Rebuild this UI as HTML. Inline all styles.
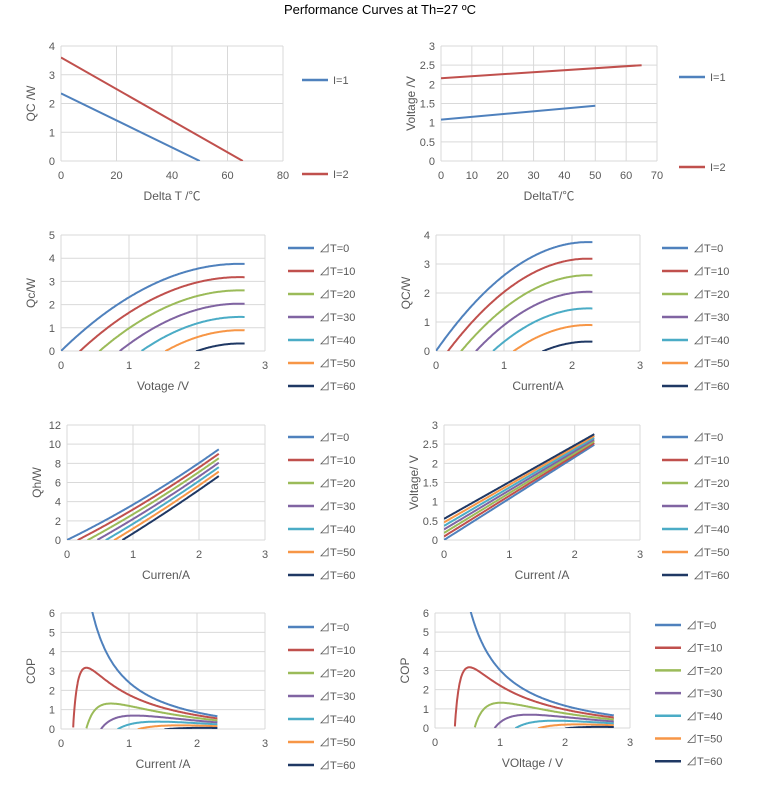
<!DOCTYPE html>
<html><head><meta charset="utf-8"><style>
body{margin:0;background:#fff;width:761px;height:795px;overflow:hidden}
svg text{font-family:"Liberation Sans","Noto Sans CJK SC",sans-serif;fill:#595959}
</style></head><body>
<svg id="s" width="761" height="795" xmlns="http://www.w3.org/2000/svg">
<text x="380" y="14" text-anchor="middle" font-size="13" style="fill:#000">Performance Curves at Th=27 ºC</text>
</svg>
<script>
const S=document.getElementById('s');const NS='http://www.w3.org/2000/svg';
function el(t,a,txt){const e=document.createElementNS(NS,t);for(const k in a)e.setAttribute(k,a[k]);if(txt!==undefined)e.textContent=txt;S.appendChild(e);return e;}
const C=['#4f81bd','#c0504d','#9bbb59','#8064a2','#4bacc6','#f79646','#1f3864'];
const DT=[0,10,20,30,40,50,60];
let cid=0;
function chart(o){
 const {x0,x1,y0,y1,xmin,xmax,xstep,ymin,ymax,ystep,xl,yl,series,lx,ly,labels}=o;
 const X=v=>x0+(v-xmin)/(xmax-xmin)*(x1-x0), Y=v=>y1-(v-ymin)/(ymax-ymin)*(y1-y0);
 for(let v=ymin;v<=ymax+1e-9;v+=ystep){el('line',{x1:x0,x2:x1,y1:Y(v),y2:Y(v),stroke:'#d9d9d9','stroke-width':1});
  el('text',{x:x0-6,y:Y(v)+4,'text-anchor':'end','font-size':11},String(+v.toFixed(1)));}
 for(let v=xmin;v<=xmax+1e-9;v+=xstep){el('line',{x1:X(v),x2:X(v),y1:y0,y2:y1,stroke:'#d9d9d9','stroke-width':1});
  el('text',{x:X(v),y:y1+18,'text-anchor':'middle','font-size':11},String(v));}
 el('text',{x:(x0+x1)/2,y:y1+39,'text-anchor':'middle','font-size':12},xl);
 const yc=(y0+y1)/2;el('text',{x:x0-26,y:yc,'text-anchor':'middle','font-size':12,transform:`rotate(-90 ${x0-26} ${yc})`},yl);
 const id='c'+(cid++);const cp=el('clipPath',{id});const r=document.createElementNS(NS,'rect');
 r.setAttribute('x',x0);r.setAttribute('y',y0-1);r.setAttribute('width',x1-x0);r.setAttribute('height',y1-y0+1);cp.appendChild(r);
 series.forEach((pts,i)=>{el('polyline',{points:pts.map(p=>X(p[0]).toFixed(1)+','+Y(p[1]).toFixed(1)).join(' '),fill:'none',stroke:C[o.cols?o.cols[i]:i],'stroke-width':2,'clip-path':`url(#${id})`});});
 labels.forEach((t,i)=>{const yy=ly[i];el('line',{x1:lx,x2:lx+26,y1:yy,y2:yy,stroke:C[o.cols?o.cols[i]:i],'stroke-width':2.5});
  el('text',{x:lx+31,y:yy+4,'font-size':11},t);});
}
const Qc=(I,d)=>3.357*I-0.75*I*I-0.0572*d;
const V=(I,d)=>(1.08-0.002*d)*I+0.0092*d;
const XV=(I,d)=>2.7-(2.3-I)*(1.174-0.0034*d);
function gen(f,n=200){const a=[];for(let k=0;k<=n;k++){const I=0.0005+2.3*k/n;a.push(f(I));}return a;}
function pos(a){return a.filter(p=>p[1]>=-0.02);}
const dtl=DT.map(d=>'⊿T='+d);
const L7=(s,st=23)=>[0,1,2,3,4,5,6].map(i=>s+i*st);
chart({x0:61,x1:283,y0:46,y1:161,xmin:0,xmax:80,xstep:20,ymin:0,ymax:4,ystep:1,xl:'Delta T /℃',yl:'QC /W',
 series:[[[0,2.35],[50,0]],[[0,3.6],[65.5,0]]],lx:302,ly:[80,174],labels:['I=1','I=2'],cols:[0,1]});
chart({x0:441,x1:657,y0:46,y1:161,xmin:0,xmax:70,xstep:10,ymin:0,ymax:3,ystep:0.5,xl:'DeltaT/℃',yl:'Voltage /V',
 series:[[[0,1.08],[50,1.44]],[[0,2.16],[65,2.5]]],lx:679,ly:[77,167],labels:['I=1','I=2'],cols:[0,1]});
chart({x0:61,x1:265,y0:235,y1:351,xmin:0,xmax:3,xstep:1,ymin:0,ymax:5,ystep:1,xl:'Votage /V',yl:'Qc/W',
 series:DT.map(d=>pos(gen(I=>[XV(I,d),Qc(I,d)]))),lx:288,ly:L7(248),labels:dtl});
chart({x0:436,x1:640,y0:235,y1:351,xmin:0,xmax:3,xstep:1,ymin:0,ymax:4,ystep:1,xl:'Current/A',yl:'QC/W',
 series:DT.map(d=>pos(gen(I=>[I,Qc(I,d)]))),lx:662,ly:L7(248),labels:dtl});
chart({x0:67,x1:265,y0:425,y1:540,xmin:0,xmax:3,xstep:1,ymin:0,ymax:12,ystep:2,xl:'Curren/A',yl:'Qh/W',
 series:DT.map(d=>pos(gen(I=>[I,Qc(I,d)+V(I,d)*I]))),lx:288,ly:L7(437),labels:dtl});
chart({x0:444,x1:640,y0:425,y1:540,xmin:0,xmax:3,xstep:1,ymin:0,ymax:3,ystep:0.5,xl:'Current /A',yl:'Voltage/ V',
 series:DT.map(d=>gen(I=>[I,V(I,d)])).map(a=>[[0,a[0][1]],...a]),lx:662,ly:L7(437),labels:dtl});
chart({x0:61,x1:265,y0:613,y1:729,xmin:0,xmax:3,xstep:1,ymin:0,ymax:6,ystep:1,xl:'Current /A',yl:'COP',
 series:DT.map(d=>pos(gen(I=>[I,Qc(I,d)/(V(I,d)*I)],400))),lx:288,ly:L7(627),labels:dtl});
chart({x0:435,x1:630,y0:613,y1:728,xmin:0,xmax:3,xstep:1,ymin:0,ymax:6,ystep:1,xl:'VOltage / V',yl:'COP',
 series:DT.map(d=>pos(gen(I=>[V(I,d)*2.75/V(2.3,d),Qc(I,d)/(V(I,d)*I)],400))),lx:655,ly:L7(625,22.7),labels:dtl});
</script>
</body></html>
